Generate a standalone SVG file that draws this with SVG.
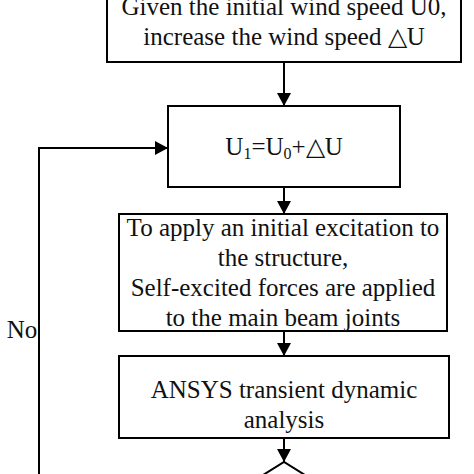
<svg xmlns="http://www.w3.org/2000/svg" width="474" height="474" viewBox="0 0 474 474">
<style>
.box{fill:#fff;stroke:#000;stroke-width:2}
.t{font-family:"Liberation Serif","Times New Roman",serif;font-size:25px;fill:#111;text-anchor:middle}
.c{stroke:#000;stroke-width:2;fill:none}
</style>
<defs>
<marker id="ah" viewBox="0 0 13 14" refX="13" refY="7" markerWidth="13" markerHeight="14" markerUnits="userSpaceOnUse" orient="auto">
<path d="M0,0 L13,7 L0,14 Z" fill="#000"/>
</marker>
</defs>
<rect width="474" height="474" fill="#fff"/>
<g id="connectors">
<line class="c" x1="284" y1="62" x2="284" y2="106" marker-end="url(#ah)"/>
<line class="c" x1="284" y1="187" x2="284" y2="214" marker-end="url(#ah)"/>
<line class="c" x1="284" y1="331" x2="284" y2="356" marker-end="url(#ah)"/>
<line class="c" x1="284" y1="438" x2="284" y2="462" marker-end="url(#ah)"/>
<polyline class="c" points="39,476 39,148 168,148" marker-end="url(#ah)"/>
<text class="t" x="22" y="338">No</text>
</g>
<g id="node-start">
<rect class="box" x="107" y="-10" width="354" height="72"/>
<text class="t" x="284" y="15">Given the initial wind speed U0,</text>
<text class="t" x="284" y="45">increase the wind speed △U</text>
</g>
<g id="node-u1">
<rect class="box" x="168" y="106" width="232" height="81"/>
<text class="t" x="284" y="155">U<tspan font-size="16" dy="4">1</tspan><tspan dy="-4">=U</tspan><tspan font-size="16" dy="4">0</tspan><tspan dy="-4">+△U</tspan></text>
</g>
<g id="node-excite">
<rect class="box" x="119" y="214" width="328" height="117"/>
<text class="t" x="283" y="236">To apply an initial excitation to</text>
<text class="t" x="283" y="266">the structure,</text>
<text class="t" x="283" y="296">Self-excited forces are applied</text>
<text class="t" x="283" y="326">to the main beam joints</text>
</g>
<g id="node-ansys">
<rect class="box" x="119" y="356" width="330" height="82"/>
<text class="t" x="284" y="398">ANSYS transient dynamic</text>
<text class="t" x="284" y="428">analysis</text>
</g>
<g id="node-decision">
<polyline class="c" points="255,480 284,462 313,480"/>
</g>
</svg>
